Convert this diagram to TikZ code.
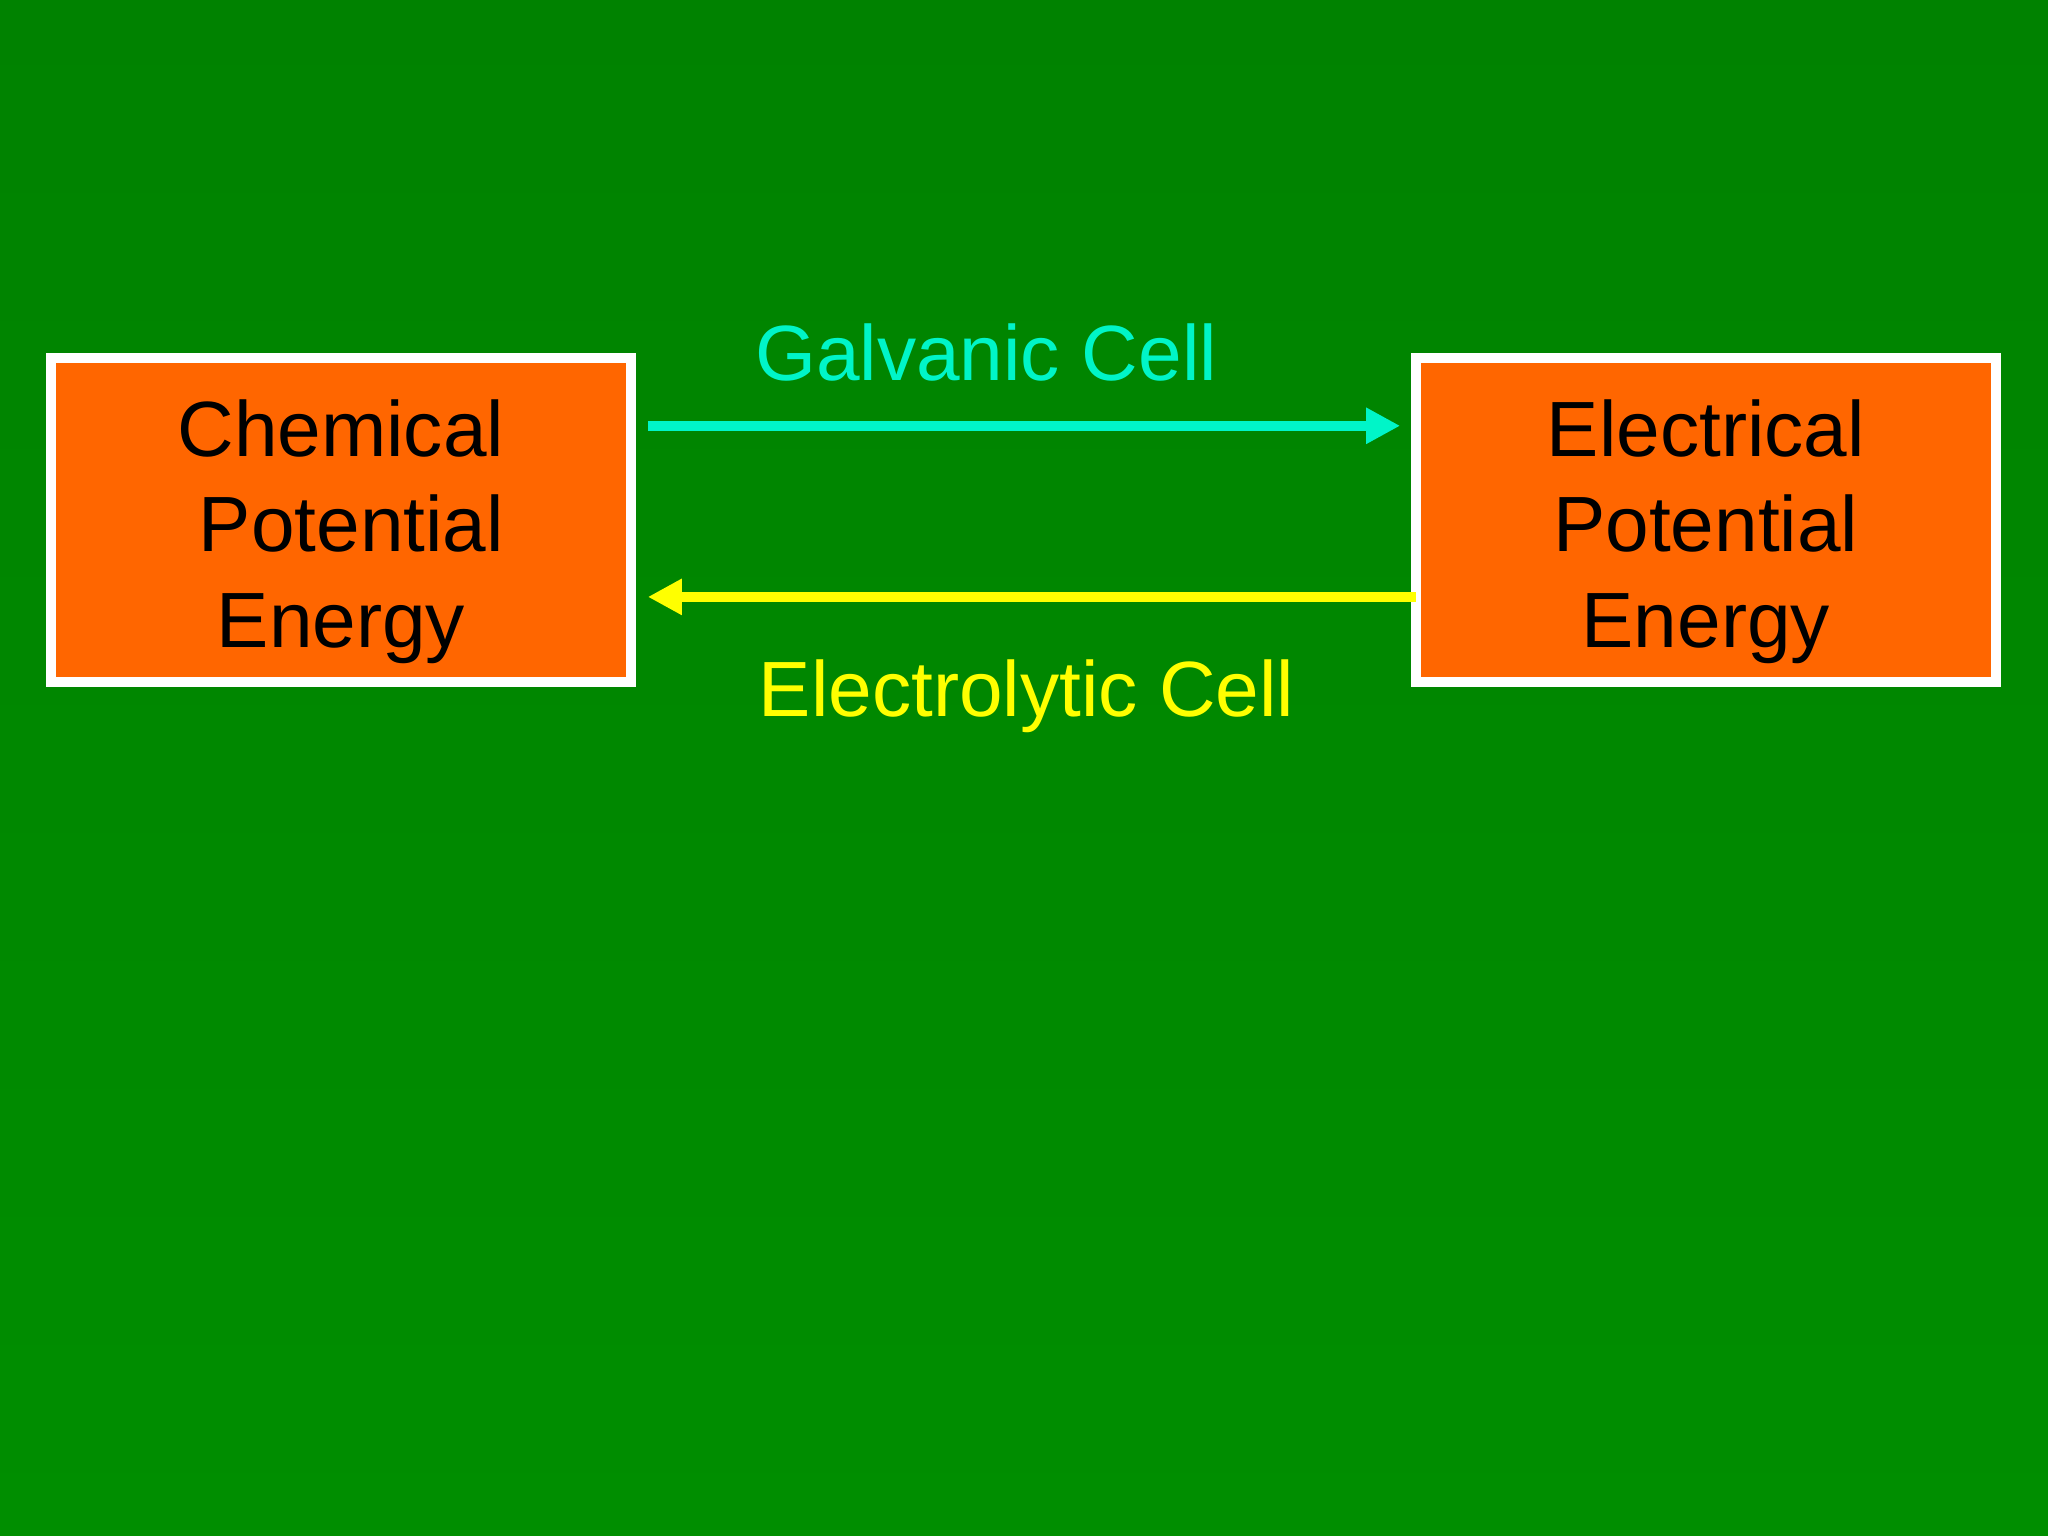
\documentclass[tikz,border=0pt]{standalone}
\usepackage{fontspec}
\setmainfont{Liberation Sans}
\usetikzlibrary{arrows.meta}
\definecolor{bgtop}{RGB}{0,130,0}
\definecolor{bgbot}{RGB}{0,142,0}
\definecolor{boxor}{RGB}{255,102,0}
\definecolor{galv}{RGB}{0,245,200}
\definecolor{elec}{RGB}{255,255,0}
\begin{document}
\begin{tikzpicture}[x=0.5pt,y=-0.5pt,
  box/.style={draw=white,line width=4pt,fill=boxor,minimum width=222pt,minimum height=124pt,inner sep=0pt},
  btxt/.style={align=center,font=\fontsize{30}{36.5}\selectfont,inner sep=0pt},
  lbl/.style={font=\fontsize{30}{36}\selectfont},
  arr/.style={line width=4pt,-{Triangle[length=13pt,width=13pt]}}]
\useasboundingbox (0,0) rectangle (1568,1176);
\shade[top color=bgtop,bottom color=bgbot] (0,0) rectangle (1568,1176);
\node[box] (chem) at (261,398) {};
\node[btxt] (chemT) at (261,407) {Chemical\\\hspace*{8pt}Potential\\Energy};
\node[box] (elecE) at (1306,398) {};
\node[btxt] (elecT) at (1306,407) {Electrical\\Potential\\Energy};
\coordinate (g1) at (496,326); \coordinate (g2) at (1072,326);
\coordinate (e1) at (1084,457); \coordinate (e2) at (496,457);
\draw[arr,galv] (g1) -- (g2);
\draw[arr,elec] (e1) -- (e2);
\node[lbl,text=galv] (gl) at (755,270) {Galvanic Cell};
\node[lbl,text=elec] (el) at (786,533) {Electrolytic Cell};
\end{tikzpicture}
\end{document}
